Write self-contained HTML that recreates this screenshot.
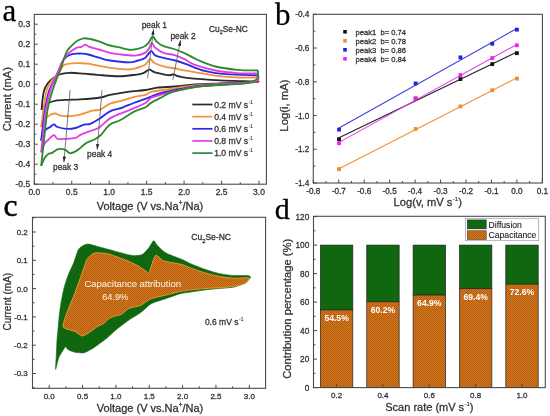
<!DOCTYPE html>
<html><head><meta charset="utf-8"><style>
html,body{margin:0;padding:0;background:#fff;width:550px;height:416px;overflow:hidden;}
svg{display:block;} #w{will-change:transform;width:550px;height:416px;}
</style></head><body><div id="w">
<svg width="550" height="416" viewBox="0 0 550 416">
<rect width="550" height="416" fill="#fff"/>
<text x="2.5" y="20.6" font-family="Liberation Serif" font-size="31" text-anchor="start" fill="#000" font-weight="normal" stroke="#000" stroke-width="0.28" >a</text>
<text x="275.0" y="25.4" font-family="Liberation Serif" font-size="31" text-anchor="start" fill="#000" font-weight="normal" stroke="#000" stroke-width="0.28" >b</text>
<text x="3.5" y="216.3" font-family="Liberation Serif" font-size="31.5" text-anchor="start" fill="#000" font-weight="normal" stroke="#000" stroke-width="0.55" >c</text>
<text x="274.8" y="218.7" font-family="Liberation Serif" font-size="30" text-anchor="start" fill="#000" font-weight="normal" stroke="#000" stroke-width="0.28" >d</text>
<line x1="34.30" y1="184.2" x2="34.30" y2="180.7" stroke="#4a4a4a" stroke-width="1"/>
<text x="34.3" y="194.9" font-family="Liberation Sans" font-size="8.5" text-anchor="middle" fill="#333" font-weight="normal" stroke="#333" stroke-width="0.28" >0.0</text>
<line x1="53.02" y1="184.2" x2="53.02" y2="182.2" stroke="#4a4a4a" stroke-width="1"/>
<line x1="71.75" y1="184.2" x2="71.75" y2="180.7" stroke="#4a4a4a" stroke-width="1"/>
<text x="71.75" y="194.9" font-family="Liberation Sans" font-size="8.5" text-anchor="middle" fill="#333" font-weight="normal" stroke="#333" stroke-width="0.28" >0.5</text>
<line x1="90.47" y1="184.2" x2="90.47" y2="182.2" stroke="#4a4a4a" stroke-width="1"/>
<line x1="109.20" y1="184.2" x2="109.20" y2="180.7" stroke="#4a4a4a" stroke-width="1"/>
<text x="109.2" y="194.9" font-family="Liberation Sans" font-size="8.5" text-anchor="middle" fill="#333" font-weight="normal" stroke="#333" stroke-width="0.28" >1.0</text>
<line x1="127.92" y1="184.2" x2="127.92" y2="182.2" stroke="#4a4a4a" stroke-width="1"/>
<line x1="146.65" y1="184.2" x2="146.65" y2="180.7" stroke="#4a4a4a" stroke-width="1"/>
<text x="146.65" y="194.9" font-family="Liberation Sans" font-size="8.5" text-anchor="middle" fill="#333" font-weight="normal" stroke="#333" stroke-width="0.28" >1.5</text>
<line x1="165.38" y1="184.2" x2="165.38" y2="182.2" stroke="#4a4a4a" stroke-width="1"/>
<line x1="184.10" y1="184.2" x2="184.10" y2="180.7" stroke="#4a4a4a" stroke-width="1"/>
<text x="184.10000000000002" y="194.9" font-family="Liberation Sans" font-size="8.5" text-anchor="middle" fill="#333" font-weight="normal" stroke="#333" stroke-width="0.28" >2.0</text>
<line x1="202.82" y1="184.2" x2="202.82" y2="182.2" stroke="#4a4a4a" stroke-width="1"/>
<line x1="221.55" y1="184.2" x2="221.55" y2="180.7" stroke="#4a4a4a" stroke-width="1"/>
<text x="221.55" y="194.9" font-family="Liberation Sans" font-size="8.5" text-anchor="middle" fill="#333" font-weight="normal" stroke="#333" stroke-width="0.28" >2.5</text>
<line x1="240.28" y1="184.2" x2="240.28" y2="182.2" stroke="#4a4a4a" stroke-width="1"/>
<line x1="259.00" y1="184.2" x2="259.00" y2="180.7" stroke="#4a4a4a" stroke-width="1"/>
<text x="259.0" y="194.9" font-family="Liberation Sans" font-size="8.5" text-anchor="middle" fill="#333" font-weight="normal" stroke="#333" stroke-width="0.28" >3.0</text>
<line x1="34.3" y1="184.20" x2="37.8" y2="184.20" stroke="#4a4a4a" stroke-width="1"/>
<text x="30.2" y="187.29999999999998" font-family="Liberation Sans" font-size="8.5" text-anchor="end" fill="#333" font-weight="normal" stroke="#333" stroke-width="0.28" >-0.5</text>
<line x1="34.3" y1="174.20" x2="36.3" y2="174.20" stroke="#4a4a4a" stroke-width="1"/>
<line x1="34.3" y1="164.20" x2="37.8" y2="164.20" stroke="#4a4a4a" stroke-width="1"/>
<text x="30.2" y="167.29999999999998" font-family="Liberation Sans" font-size="8.5" text-anchor="end" fill="#333" font-weight="normal" stroke="#333" stroke-width="0.28" >-0.4</text>
<line x1="34.3" y1="154.20" x2="36.3" y2="154.20" stroke="#4a4a4a" stroke-width="1"/>
<line x1="34.3" y1="144.20" x2="37.8" y2="144.20" stroke="#4a4a4a" stroke-width="1"/>
<text x="30.2" y="147.3" font-family="Liberation Sans" font-size="8.5" text-anchor="end" fill="#333" font-weight="normal" stroke="#333" stroke-width="0.28" >-0.3</text>
<line x1="34.3" y1="134.20" x2="36.3" y2="134.20" stroke="#4a4a4a" stroke-width="1"/>
<line x1="34.3" y1="124.20" x2="37.8" y2="124.20" stroke="#4a4a4a" stroke-width="1"/>
<text x="30.2" y="127.3" font-family="Liberation Sans" font-size="8.5" text-anchor="end" fill="#333" font-weight="normal" stroke="#333" stroke-width="0.28" >-0.2</text>
<line x1="34.3" y1="114.20" x2="36.3" y2="114.20" stroke="#4a4a4a" stroke-width="1"/>
<line x1="34.3" y1="104.20" x2="37.8" y2="104.20" stroke="#4a4a4a" stroke-width="1"/>
<text x="30.2" y="107.3" font-family="Liberation Sans" font-size="8.5" text-anchor="end" fill="#333" font-weight="normal" stroke="#333" stroke-width="0.28" >-0.1</text>
<line x1="34.3" y1="94.20" x2="36.3" y2="94.20" stroke="#4a4a4a" stroke-width="1"/>
<line x1="34.3" y1="84.20" x2="37.8" y2="84.20" stroke="#4a4a4a" stroke-width="1"/>
<text x="30.2" y="87.3" font-family="Liberation Sans" font-size="8.5" text-anchor="end" fill="#333" font-weight="normal" stroke="#333" stroke-width="0.28" >0.0</text>
<line x1="34.3" y1="74.20" x2="36.3" y2="74.20" stroke="#4a4a4a" stroke-width="1"/>
<line x1="34.3" y1="64.20" x2="37.8" y2="64.20" stroke="#4a4a4a" stroke-width="1"/>
<text x="30.2" y="67.3" font-family="Liberation Sans" font-size="8.5" text-anchor="end" fill="#333" font-weight="normal" stroke="#333" stroke-width="0.28" >0.1</text>
<line x1="34.3" y1="54.20" x2="36.3" y2="54.20" stroke="#4a4a4a" stroke-width="1"/>
<line x1="34.3" y1="44.20" x2="37.8" y2="44.20" stroke="#4a4a4a" stroke-width="1"/>
<text x="30.2" y="47.300000000000004" font-family="Liberation Sans" font-size="8.5" text-anchor="end" fill="#333" font-weight="normal" stroke="#333" stroke-width="0.28" >0.2</text>
<line x1="34.3" y1="34.20" x2="36.3" y2="34.20" stroke="#4a4a4a" stroke-width="1"/>
<line x1="34.3" y1="24.20" x2="37.8" y2="24.20" stroke="#4a4a4a" stroke-width="1"/>
<text x="30.2" y="27.299999999999997" font-family="Liberation Sans" font-size="8.5" text-anchor="end" fill="#333" font-weight="normal" stroke="#333" stroke-width="0.28" >0.3</text>
<rect x="34.3" y="14.4" width="232.09999999999997" height="169.79999999999998" fill="none" stroke="#4a4a4a" stroke-width="1.1"/>
<text x="150.0" y="209.6" font-family="Liberation Sans" font-size="11" text-anchor="middle" fill="#333" font-weight="normal" stroke="#333" stroke-width="0.28" >Voltage (V vs.Na<tspan dy="-4.5" font-size="6.5">+</tspan><tspan dy="4.5">/Na)</tspan></text>
<text x="0" y="0" font-family="Liberation Sans" font-size="11.1" text-anchor="middle" fill="#333" font-weight="normal" stroke="#333" stroke-width="0.28" transform="translate(11.0,99.2) rotate(-90)">Current (mA)</text>
<path d="M41.60,110.00 C41.75,108.33 42.08,103.25 42.50,100.00 C42.92,96.75 43.27,93.20 44.10,90.50 C44.93,87.80 46.10,85.77 47.50,83.80 C48.90,81.83 50.53,80.25 52.50,78.70 C54.47,77.15 56.48,75.48 59.30,74.50 C62.12,73.52 65.28,72.93 69.40,72.80 C73.52,72.67 79.35,73.37 84.00,73.70 C88.65,74.03 91.57,74.38 97.30,74.80 C103.03,75.22 112.12,76.20 118.40,76.20 C124.68,76.20 130.83,75.32 135.00,74.80 C139.17,74.28 141.02,73.95 143.40,73.10 C145.78,72.25 147.47,69.85 149.30,69.70 C151.13,69.55 152.02,71.43 154.40,72.20 C156.78,72.97 161.00,73.80 163.60,74.30 C166.20,74.80 168.33,75.20 170.00,75.20 C171.67,75.20 172.35,74.17 173.60,74.30 C174.85,74.43 175.32,75.40 177.50,76.00 C179.68,76.60 179.58,77.17 186.70,77.90 C193.82,78.63 210.43,79.85 220.20,80.40 C229.97,80.95 239.17,81.02 245.30,81.20 C251.43,81.38 254.72,81.57 257.00,81.50 C259.28,81.43 258.67,80.92 259.00,80.80" fill="none" stroke="#2b2b2b" stroke-width="1.85" stroke-linejoin="round"/>
<path d="M259.00,80.80 C258.67,81.00 259.33,81.73 257.00,82.00 C254.67,82.27 251.17,82.17 245.00,82.40 C238.83,82.63 228.33,83.05 220.00,83.40 C211.67,83.75 202.50,83.98 195.00,84.50 C187.50,85.02 181.28,85.97 175.00,86.50 C168.72,87.03 162.22,87.12 157.30,87.70 C152.38,88.28 150.43,89.32 145.50,90.00 C140.57,90.68 133.62,91.00 127.70,91.80 C121.78,92.60 114.55,93.85 110.00,94.80 C105.45,95.75 105.40,96.73 100.40,97.50 C95.40,98.27 85.45,99.02 80.00,99.40 C74.55,99.78 71.72,99.60 67.70,99.80 C63.68,100.00 59.13,100.07 55.90,100.60 C52.67,101.13 50.15,102.20 48.30,103.00 C46.45,103.80 45.92,104.32 44.80,105.40 C43.68,106.48 42.13,108.82 41.60,109.50" fill="none" stroke="#2b2b2b" stroke-width="1.85" stroke-linejoin="round"/>
<path d="M41.20,127.00 C41.37,125.83 41.85,122.83 42.20,120.00 C42.55,117.17 42.57,114.92 43.30,110.00 C44.03,105.08 45.35,95.17 46.60,90.50 C47.85,85.83 48.97,84.67 50.80,82.00 C52.63,79.33 55.73,76.92 57.60,74.50 C59.47,72.08 60.90,69.12 62.00,67.50 C63.10,65.88 62.57,65.48 64.20,64.80 C65.83,64.12 69.08,63.67 71.80,63.40 C74.52,63.13 77.77,63.15 80.50,63.20 C83.23,63.25 85.12,63.25 88.20,63.70 C91.28,64.15 95.37,65.22 99.00,65.90 C102.63,66.58 105.02,67.20 110.00,67.80 C114.98,68.40 124.23,69.55 128.90,69.50 C133.57,69.45 135.30,68.30 138.00,67.50 C140.70,66.70 143.07,66.10 145.10,64.70 C147.13,63.30 148.65,59.38 150.20,59.10 C151.75,58.82 152.17,61.80 154.40,63.00 C156.63,64.20 160.10,65.38 163.60,66.30 C167.10,67.22 171.75,67.78 175.40,68.50 C179.05,69.22 180.57,69.70 185.50,70.60 C190.43,71.50 200.00,73.05 205.00,73.90 C210.00,74.75 210.12,75.10 215.50,75.70 C220.88,76.30 230.22,77.20 237.30,77.50 C244.38,77.80 254.55,77.50 258.00,77.50" fill="none" stroke="#f39237" stroke-width="1.85" stroke-linejoin="round"/>
<path d="M258.00,77.50 C257.83,78.17 259.17,80.65 257.00,81.50 C254.83,82.35 251.17,82.22 245.00,82.60 C238.83,82.98 228.33,83.32 220.00,83.80 C211.67,84.28 202.50,84.75 195.00,85.50 C187.50,86.25 180.30,87.55 175.00,88.30 C169.70,89.05 167.13,89.42 163.20,90.00 C159.27,90.58 154.35,91.00 151.40,91.80 C148.45,92.60 148.47,93.92 145.50,94.80 C142.53,95.68 137.55,96.12 133.60,97.10 C129.65,98.08 125.73,99.62 121.80,100.70 C117.87,101.78 113.57,102.12 110.00,103.60 C106.43,105.08 103.37,108.43 100.40,109.60 C97.43,110.77 95.60,109.75 92.20,110.60 C88.80,111.45 83.68,113.77 80.00,114.70 C76.32,115.63 73.55,116.10 70.10,116.20 C66.65,116.30 61.70,115.75 59.30,115.30 C56.90,114.85 57.07,113.65 55.70,113.50 C54.33,113.35 52.32,113.95 51.10,114.40 C49.88,114.85 49.60,115.43 48.40,116.20 C47.20,116.97 45.10,117.20 43.90,119.00 C42.70,120.80 41.65,125.67 41.20,127.00" fill="none" stroke="#f39237" stroke-width="1.85" stroke-linejoin="round"/>
<path d="M41.20,140.60 C41.50,138.00 42.37,130.10 43.00,125.00 C43.63,119.90 43.97,115.75 45.00,110.00 C46.03,104.25 47.38,96.00 49.20,90.50 C51.02,85.00 53.67,81.77 55.90,77.00 C58.13,72.23 61.22,64.93 62.60,61.90 C63.98,58.87 63.03,59.95 64.20,58.80 C65.37,57.65 67.60,55.87 69.60,55.00 C71.60,54.13 74.02,53.83 76.20,53.60 C78.38,53.37 80.70,53.45 82.70,53.60 C84.70,53.75 85.48,53.82 88.20,54.50 C90.92,55.18 95.37,56.70 99.00,57.70 C102.63,58.70 105.02,59.73 110.00,60.50 C114.98,61.27 124.23,62.30 128.90,62.30 C133.57,62.30 135.30,61.23 138.00,60.50 C140.70,59.77 142.93,59.45 145.10,57.90 C147.27,56.35 149.32,51.62 151.00,51.20 C152.68,50.78 153.10,54.28 155.20,55.40 C157.30,56.52 160.23,57.05 163.60,57.90 C166.97,58.75 171.75,59.52 175.40,60.50 C179.05,61.48 180.65,62.07 185.50,63.80 C190.35,65.53 197.68,69.17 204.50,70.90 C211.32,72.63 217.48,73.47 226.40,74.20 C235.32,74.93 252.73,75.12 258.00,75.30" fill="none" stroke="#2a2ae6" stroke-width="1.85" stroke-linejoin="round"/>
<path d="M258.00,75.30 C257.83,76.25 259.17,79.75 257.00,81.00 C254.83,82.25 251.17,82.27 245.00,82.80 C238.83,83.33 228.33,83.62 220.00,84.20 C211.67,84.78 202.50,85.33 195.00,86.30 C187.50,87.27 181.28,88.68 175.00,90.00 C168.72,91.32 162.22,92.72 157.30,94.20 C152.38,95.68 149.45,97.43 145.50,98.90 C141.55,100.37 137.55,101.52 133.60,103.00 C129.65,104.48 125.73,106.42 121.80,107.80 C117.87,109.18 113.73,109.47 110.00,111.30 C106.27,113.13 102.70,116.70 99.40,118.80 C96.10,120.90 92.77,122.93 90.20,123.90 C87.63,124.87 86.45,123.92 84.00,124.60 C81.55,125.28 78.42,127.28 75.50,128.00 C72.58,128.72 69.50,129.07 66.50,128.90 C63.50,128.73 59.60,127.75 57.50,127.00 C55.40,126.25 55.12,124.40 53.90,124.40 C52.68,124.40 51.72,125.95 50.20,127.00 C48.68,128.05 46.30,128.43 44.80,130.70 C43.30,132.97 41.80,138.95 41.20,140.60" fill="none" stroke="#2a2ae6" stroke-width="1.85" stroke-linejoin="round"/>
<path d="M41.20,152.30 C41.58,148.58 42.73,137.05 43.50,130.00 C44.27,122.95 44.58,116.87 45.80,110.00 C47.02,103.13 48.55,95.70 50.80,88.80 C53.05,81.90 57.43,73.07 59.30,68.60 C61.17,64.13 60.65,64.35 62.00,62.00 C63.35,59.65 65.03,56.85 67.40,54.50 C69.77,52.15 73.83,49.18 76.20,47.90 C78.57,46.62 80.07,47.35 81.60,46.80 C83.13,46.25 84.12,44.60 85.40,44.60 C86.68,44.60 87.03,45.98 89.30,46.80 C91.57,47.62 95.55,48.50 99.00,49.50 C102.45,50.50 106.77,52.02 110.00,52.80 C113.23,53.58 114.23,53.73 118.40,54.20 C122.57,54.67 130.55,55.82 135.00,55.60 C139.45,55.38 142.72,54.20 145.10,52.90 C147.48,51.60 148.18,49.48 149.30,47.80 C150.42,46.12 150.82,42.80 151.80,42.80 C152.78,42.80 153.23,46.12 155.20,47.80 C157.17,49.48 160.23,51.63 163.60,52.90 C166.97,54.17 171.75,54.28 175.40,55.40 C179.05,56.52 182.47,58.10 185.50,59.60 C188.53,61.10 188.60,62.58 193.60,64.40 C198.60,66.22 208.22,69.05 215.50,70.50 C222.78,71.95 230.22,72.60 237.30,73.10 C244.38,73.60 254.55,73.43 258.00,73.50" fill="none" stroke="#e23ee2" stroke-width="1.85" stroke-linejoin="round"/>
<path d="M258.00,73.50 C257.92,74.67 259.67,78.92 257.50,80.50 C255.33,82.08 251.25,82.35 245.00,83.00 C238.75,83.65 228.33,83.73 220.00,84.40 C211.67,85.07 202.50,85.87 195.00,87.00 C187.50,88.13 180.30,90.00 175.00,91.20 C169.70,92.40 167.13,93.12 163.20,94.20 C159.27,95.28 154.35,96.23 151.40,97.70 C148.45,99.17 148.47,101.22 145.50,103.00 C142.53,104.78 137.55,106.72 133.60,108.40 C129.65,110.08 125.73,111.43 121.80,113.10 C117.87,114.77 113.90,115.92 110.00,118.40 C106.10,120.88 101.70,125.90 98.40,128.00 C95.10,130.10 93.27,129.82 90.20,131.00 C87.13,132.18 82.45,133.95 80.00,135.10 C77.55,136.25 77.75,137.28 75.50,137.90 C73.25,138.52 69.50,138.65 66.50,138.80 C63.50,138.95 59.60,139.40 57.50,138.80 C55.40,138.20 55.42,135.05 53.90,135.20 C52.38,135.35 49.92,138.35 48.40,139.70 C46.88,141.05 46.00,141.20 44.80,143.30 C43.60,145.40 41.80,150.80 41.20,152.30" fill="none" stroke="#e23ee2" stroke-width="1.85" stroke-linejoin="round"/>
<path d="M41.20,165.90 C41.67,161.58 42.95,149.32 44.00,140.00 C45.05,130.68 46.08,118.25 47.50,110.00 C48.92,101.75 50.92,95.83 52.50,90.50 C54.08,85.17 55.68,81.47 57.00,78.00 C58.32,74.53 58.83,73.98 60.40,69.70 C61.97,65.42 64.50,56.30 66.40,52.30 C68.30,48.30 69.98,47.62 71.80,45.70 C73.62,43.78 75.30,42.03 77.30,40.80 C79.30,39.57 81.63,38.60 83.80,38.30 C85.97,38.00 87.77,38.48 90.30,39.00 C92.83,39.52 95.72,40.32 99.00,41.40 C102.28,42.48 106.77,44.53 110.00,45.50 C113.23,46.47 114.90,46.47 118.40,47.20 C121.90,47.93 126.83,49.93 131.00,49.90 C135.17,49.87 140.48,48.18 143.40,47.00 C146.32,45.82 146.95,44.55 148.50,42.80 C150.05,41.05 151.30,36.65 152.70,36.50 C154.10,36.35 155.08,40.30 156.90,41.90 C158.72,43.50 160.52,44.83 163.60,46.10 C166.68,47.37 171.75,48.23 175.40,49.50 C179.05,50.77 181.73,51.95 185.50,53.70 C189.27,55.45 193.00,57.87 198.00,60.00 C203.00,62.13 208.95,64.87 215.50,66.50 C222.05,68.13 230.22,69.13 237.30,69.80 C244.38,70.47 254.55,70.38 258.00,70.50" fill="none" stroke="#2c8a2c" stroke-width="1.85" stroke-linejoin="round"/>
<path d="M258.00,70.50 C257.92,71.75 258.23,76.22 257.50,78.00 C256.77,79.78 255.68,80.30 253.60,81.20 C251.52,82.10 249.18,82.85 245.00,83.40 C240.82,83.95 235.43,84.03 228.50,84.50 C221.57,84.97 210.37,85.50 203.40,86.20 C196.43,86.90 192.27,87.58 186.70,88.70 C181.13,89.82 173.92,91.60 170.00,92.90 C166.08,94.20 166.30,94.88 163.20,96.50 C160.10,98.12 154.35,100.82 151.40,102.60 C148.45,104.38 148.47,105.65 145.50,107.20 C142.53,108.75 137.75,109.77 133.60,111.90 C129.45,114.03 124.53,117.90 120.60,120.00 C116.67,122.10 113.30,122.00 110.00,124.50 C106.70,127.00 103.30,132.55 100.80,135.00 C98.30,137.45 97.10,138.03 95.00,139.20 C92.90,140.37 89.98,141.12 88.20,142.00 C86.42,142.88 86.13,143.10 84.30,144.50 C82.47,145.90 79.57,148.93 77.20,150.40 C74.83,151.87 72.07,153.40 70.10,153.30 C68.13,153.20 67.37,150.48 65.40,149.80 C63.43,149.12 60.53,148.70 58.30,149.20 C56.07,149.70 53.65,152.00 52.00,152.80 C50.35,153.60 49.60,153.17 48.40,154.00 C47.20,154.83 46.00,155.82 44.80,157.80 C43.60,159.78 41.80,164.55 41.20,165.90" fill="none" stroke="#2c8a2c" stroke-width="1.85" stroke-linejoin="round"/>
<line x1="147.6" y1="78.1" x2="153.5" y2="29.3" stroke="#555" stroke-width="0.8"/>
<path d="M153.50,29.30 L154.43,34.95 L151.25,34.57Z" fill="#222"/>
<line x1="172.9" y1="79.8" x2="180.5" y2="40.3" stroke="#555" stroke-width="0.8"/>
<path d="M180.50,40.30 L181.03,46.00 L177.89,45.40Z" fill="#222"/>
<line x1="70.1" y1="90" x2="63.9" y2="162.2" stroke="#555" stroke-width="0.8"/>
<path d="M63.90,162.20 L62.78,156.58 L65.96,156.86Z" fill="#222"/>
<line x1="102" y1="90.2" x2="97.2" y2="149.6" stroke="#555" stroke-width="0.8"/>
<path d="M97.20,149.60 L96.05,143.99 L99.24,144.25Z" fill="#222"/>
<text x="141.7" y="27.6" font-family="Liberation Sans" font-size="8.4" text-anchor="start" fill="#333" font-weight="normal" stroke="#333" stroke-width="0.28" >peak 1</text>
<text x="170.4" y="38.6" font-family="Liberation Sans" font-size="8.4" text-anchor="start" fill="#333" font-weight="normal" stroke="#333" stroke-width="0.28" >peak 2</text>
<text x="53" y="169.6" font-family="Liberation Sans" font-size="8.4" text-anchor="start" fill="#333" font-weight="normal" stroke="#333" stroke-width="0.28" >peak 3</text>
<text x="87.1" y="156.7" font-family="Liberation Sans" font-size="8.4" text-anchor="start" fill="#333" font-weight="normal" stroke="#333" stroke-width="0.28" >peak 4</text>
<text x="209" y="31.5" font-family="Liberation Sans" font-size="8.4" text-anchor="start" fill="#333" font-weight="normal" stroke="#333" stroke-width="0.28" >Cu<tspan dy="2.5" font-size="5.5">2</tspan><tspan dy="-2.5">Se-NC</tspan></text>
<line x1="192.3" y1="104.50" x2="212.5" y2="104.50" stroke="#2b2b2b" stroke-width="1.7"/>
<text x="214.2" y="107.6" font-family="Liberation Sans" font-size="8.6" text-anchor="start" fill="#333" font-weight="normal" stroke="#333" stroke-width="0.28" >0.2 mV s<tspan dx="0.6" dy="-3.8" font-size="4.6" stroke-width="0.1">-1</tspan></text>
<line x1="192.3" y1="116.65" x2="212.5" y2="116.65" stroke="#f39237" stroke-width="1.7"/>
<text x="214.2" y="119.75" font-family="Liberation Sans" font-size="8.6" text-anchor="start" fill="#333" font-weight="normal" stroke="#333" stroke-width="0.28" >0.4 mV s<tspan dx="0.6" dy="-3.8" font-size="4.6" stroke-width="0.1">-1</tspan></text>
<line x1="192.3" y1="128.80" x2="212.5" y2="128.80" stroke="#2a2ae6" stroke-width="1.7"/>
<text x="214.2" y="131.9" font-family="Liberation Sans" font-size="8.6" text-anchor="start" fill="#333" font-weight="normal" stroke="#333" stroke-width="0.28" >0.6 mV s<tspan dx="0.6" dy="-3.8" font-size="4.6" stroke-width="0.1">-1</tspan></text>
<line x1="192.3" y1="140.95" x2="212.5" y2="140.95" stroke="#e23ee2" stroke-width="1.7"/>
<text x="214.2" y="144.04999999999998" font-family="Liberation Sans" font-size="8.6" text-anchor="start" fill="#333" font-weight="normal" stroke="#333" stroke-width="0.28" >0.8 mV s<tspan dx="0.6" dy="-3.8" font-size="4.6" stroke-width="0.1">-1</tspan></text>
<line x1="192.3" y1="153.10" x2="212.5" y2="153.10" stroke="#2c8a2c" stroke-width="1.7"/>
<text x="214.2" y="156.2" font-family="Liberation Sans" font-size="8.6" text-anchor="start" fill="#333" font-weight="normal" stroke="#333" stroke-width="0.28" >1.0 mV s<tspan dx="0.6" dy="-3.8" font-size="4.6" stroke-width="0.1">-1</tspan></text>
<line x1="313.30" y1="183.0" x2="313.30" y2="179.5" stroke="#4a4a4a" stroke-width="1"/>
<text x="313.3" y="194.2" font-family="Liberation Sans" font-size="8.2" text-anchor="middle" fill="#333" font-weight="normal" stroke="#333" stroke-width="0.28" >-0.8</text>
<line x1="326.03" y1="183.0" x2="326.03" y2="181.0" stroke="#4a4a4a" stroke-width="1"/>
<line x1="338.75" y1="183.0" x2="338.75" y2="179.5" stroke="#4a4a4a" stroke-width="1"/>
<text x="338.75" y="194.2" font-family="Liberation Sans" font-size="8.2" text-anchor="middle" fill="#333" font-weight="normal" stroke="#333" stroke-width="0.28" >-0.7</text>
<line x1="351.48" y1="183.0" x2="351.48" y2="181.0" stroke="#4a4a4a" stroke-width="1"/>
<line x1="364.20" y1="183.0" x2="364.20" y2="179.5" stroke="#4a4a4a" stroke-width="1"/>
<text x="364.2" y="194.2" font-family="Liberation Sans" font-size="8.2" text-anchor="middle" fill="#333" font-weight="normal" stroke="#333" stroke-width="0.28" >-0.6</text>
<line x1="376.93" y1="183.0" x2="376.93" y2="181.0" stroke="#4a4a4a" stroke-width="1"/>
<line x1="389.65" y1="183.0" x2="389.65" y2="179.5" stroke="#4a4a4a" stroke-width="1"/>
<text x="389.65000000000003" y="194.2" font-family="Liberation Sans" font-size="8.2" text-anchor="middle" fill="#333" font-weight="normal" stroke="#333" stroke-width="0.28" >-0.5</text>
<line x1="402.38" y1="183.0" x2="402.38" y2="181.0" stroke="#4a4a4a" stroke-width="1"/>
<line x1="415.10" y1="183.0" x2="415.10" y2="179.5" stroke="#4a4a4a" stroke-width="1"/>
<text x="415.1" y="194.2" font-family="Liberation Sans" font-size="8.2" text-anchor="middle" fill="#333" font-weight="normal" stroke="#333" stroke-width="0.28" >-0.4</text>
<line x1="427.83" y1="183.0" x2="427.83" y2="181.0" stroke="#4a4a4a" stroke-width="1"/>
<line x1="440.55" y1="183.0" x2="440.55" y2="179.5" stroke="#4a4a4a" stroke-width="1"/>
<text x="440.55" y="194.2" font-family="Liberation Sans" font-size="8.2" text-anchor="middle" fill="#333" font-weight="normal" stroke="#333" stroke-width="0.28" >-0.3</text>
<line x1="453.28" y1="183.0" x2="453.28" y2="181.0" stroke="#4a4a4a" stroke-width="1"/>
<line x1="466.00" y1="183.0" x2="466.00" y2="179.5" stroke="#4a4a4a" stroke-width="1"/>
<text x="466.0" y="194.2" font-family="Liberation Sans" font-size="8.2" text-anchor="middle" fill="#333" font-weight="normal" stroke="#333" stroke-width="0.28" >-0.2</text>
<line x1="478.73" y1="183.0" x2="478.73" y2="181.0" stroke="#4a4a4a" stroke-width="1"/>
<line x1="491.45" y1="183.0" x2="491.45" y2="179.5" stroke="#4a4a4a" stroke-width="1"/>
<text x="491.45000000000005" y="194.2" font-family="Liberation Sans" font-size="8.2" text-anchor="middle" fill="#333" font-weight="normal" stroke="#333" stroke-width="0.28" >-0.1</text>
<line x1="504.18" y1="183.0" x2="504.18" y2="181.0" stroke="#4a4a4a" stroke-width="1"/>
<line x1="516.90" y1="183.0" x2="516.90" y2="179.5" stroke="#4a4a4a" stroke-width="1"/>
<text x="516.9000000000001" y="194.2" font-family="Liberation Sans" font-size="8.2" text-anchor="middle" fill="#333" font-weight="normal" stroke="#333" stroke-width="0.28" >0.0</text>
<line x1="529.62" y1="183.0" x2="529.62" y2="181.0" stroke="#4a4a4a" stroke-width="1"/>
<line x1="542.35" y1="183.0" x2="542.35" y2="179.5" stroke="#4a4a4a" stroke-width="1"/>
<text x="542.35" y="194.2" font-family="Liberation Sans" font-size="8.2" text-anchor="middle" fill="#333" font-weight="normal" stroke="#333" stroke-width="0.28" >0.1</text>
<line x1="313.3" y1="183.00" x2="316.8" y2="183.00" stroke="#4a4a4a" stroke-width="1"/>
<text x="309.4" y="186.0" font-family="Liberation Sans" font-size="8.2" text-anchor="end" fill="#333" font-weight="normal" stroke="#333" stroke-width="0.28" >-1.4</text>
<line x1="313.3" y1="166.13" x2="315.3" y2="166.13" stroke="#4a4a4a" stroke-width="1"/>
<line x1="313.3" y1="149.26" x2="316.8" y2="149.26" stroke="#4a4a4a" stroke-width="1"/>
<text x="309.4" y="152.26000000000002" font-family="Liberation Sans" font-size="8.2" text-anchor="end" fill="#333" font-weight="normal" stroke="#333" stroke-width="0.28" >-1.2</text>
<line x1="313.3" y1="132.39" x2="315.3" y2="132.39" stroke="#4a4a4a" stroke-width="1"/>
<line x1="313.3" y1="115.52" x2="316.8" y2="115.52" stroke="#4a4a4a" stroke-width="1"/>
<text x="309.4" y="118.52" font-family="Liberation Sans" font-size="8.2" text-anchor="end" fill="#333" font-weight="normal" stroke="#333" stroke-width="0.28" >-1.0</text>
<line x1="313.3" y1="98.65" x2="315.3" y2="98.65" stroke="#4a4a4a" stroke-width="1"/>
<line x1="313.3" y1="81.78" x2="316.8" y2="81.78" stroke="#4a4a4a" stroke-width="1"/>
<text x="309.4" y="84.77999999999999" font-family="Liberation Sans" font-size="8.2" text-anchor="end" fill="#333" font-weight="normal" stroke="#333" stroke-width="0.28" >-0.8</text>
<line x1="313.3" y1="64.91" x2="315.3" y2="64.91" stroke="#4a4a4a" stroke-width="1"/>
<line x1="313.3" y1="48.04" x2="316.8" y2="48.04" stroke="#4a4a4a" stroke-width="1"/>
<text x="309.4" y="51.03999999999999" font-family="Liberation Sans" font-size="8.2" text-anchor="end" fill="#333" font-weight="normal" stroke="#333" stroke-width="0.28" >-0.6</text>
<line x1="313.3" y1="31.17" x2="315.3" y2="31.17" stroke="#4a4a4a" stroke-width="1"/>
<line x1="313.3" y1="14.30" x2="316.8" y2="14.30" stroke="#4a4a4a" stroke-width="1"/>
<text x="309.4" y="17.30000000000001" font-family="Liberation Sans" font-size="8.2" text-anchor="end" fill="#333" font-weight="normal" stroke="#333" stroke-width="0.28" >-0.4</text>
<rect x="313.3" y="14.3" width="229.09999999999997" height="168.7" fill="none" stroke="#4a4a4a" stroke-width="1.1"/>
<text x="427.7" y="205.5" font-family="Liberation Sans" font-size="11.2" text-anchor="middle" fill="#333" font-weight="normal" stroke="#333" stroke-width="0.28" >Log(v, mV s<tspan dx="0.4" dy="-4.6" font-size="6" stroke-width="0.15">-1</tspan><tspan dy="4.6">)</tspan></text>
<text x="0" y="0" font-family="Liberation Sans" font-size="11.3" text-anchor="middle" fill="#333" font-weight="normal" stroke="#333" stroke-width="0.28" transform="translate(288.3,105.6) rotate(-90)">Log(i, mA)</text>
<line x1="339.01" y1="137.76" x2="516.90" y2="52.11" stroke="#222" stroke-width="1.1"/>
<line x1="339.01" y1="168.64" x2="516.90" y2="77.88" stroke="#f0903a" stroke-width="1.1"/>
<line x1="339.01" y1="128.02" x2="516.90" y2="28.42" stroke="#4040e0" stroke-width="1.1"/>
<line x1="339.01" y1="142.37" x2="516.90" y2="44.44" stroke="#e040e0" stroke-width="1.1"/>
<rect x="337.11" y="137.28" width="3.8" height="3.8" fill="#111"/>
<rect x="413.72" y="96.55" width="3.8" height="3.8" fill="#111"/>
<rect x="458.54" y="77.20" width="3.8" height="3.8" fill="#111"/>
<rect x="490.34" y="62.22" width="3.8" height="3.8" fill="#111"/>
<rect x="515.00" y="51.28" width="3.8" height="3.8" fill="#111"/>
<rect x="337.11" y="167.24" width="3.8" height="3.8" fill="#f08a30"/>
<rect x="413.72" y="127.01" width="3.8" height="3.8" fill="#f08a30"/>
<rect x="458.54" y="104.46" width="3.8" height="3.8" fill="#f08a30"/>
<rect x="490.34" y="88.30" width="3.8" height="3.8" fill="#f08a30"/>
<rect x="515.00" y="76.69" width="3.8" height="3.8" fill="#f08a30"/>
<rect x="337.11" y="127.69" width="3.8" height="3.8" fill="#2020e0"/>
<rect x="413.72" y="81.57" width="3.8" height="3.8" fill="#2020e0"/>
<rect x="458.54" y="55.48" width="3.8" height="3.8" fill="#2020e0"/>
<rect x="490.34" y="41.85" width="3.8" height="3.8" fill="#2020e0"/>
<rect x="515.00" y="27.72" width="3.8" height="3.8" fill="#2020e0"/>
<rect x="337.11" y="141.32" width="3.8" height="3.8" fill="#f020f0"/>
<rect x="413.72" y="97.05" width="3.8" height="3.8" fill="#f020f0"/>
<rect x="458.54" y="73.16" width="3.8" height="3.8" fill="#f020f0"/>
<rect x="490.34" y="56.16" width="3.8" height="3.8" fill="#f020f0"/>
<rect x="515.00" y="43.37" width="3.8" height="3.8" fill="#f020f0"/>
<rect x="343.2" y="30.00" width="3.6" height="3.6" fill="#111"/>
<text x="355.5" y="34.5" font-family="Liberation Sans" font-size="7.6" text-anchor="start" fill="#333" font-weight="normal" stroke="#333" stroke-width="0.28" >peak1&#160; b= 0.74</text>
<rect x="343.2" y="39.00" width="3.6" height="3.6" fill="#f08a30"/>
<text x="355.5" y="43.5" font-family="Liberation Sans" font-size="7.6" text-anchor="start" fill="#333" font-weight="normal" stroke="#333" stroke-width="0.28" >peak2&#160; b= 0.78</text>
<rect x="343.2" y="48.00" width="3.6" height="3.6" fill="#2020e0"/>
<text x="355.5" y="52.5" font-family="Liberation Sans" font-size="7.6" text-anchor="start" fill="#333" font-weight="normal" stroke="#333" stroke-width="0.28" >peak3&#160; b= 0.86</text>
<rect x="343.2" y="57.00" width="3.6" height="3.6" fill="#f020f0"/>
<text x="355.5" y="61.5" font-family="Liberation Sans" font-size="7.6" text-anchor="start" fill="#333" font-weight="normal" stroke="#333" stroke-width="0.28" >peak4&#160; b= 0.84</text>
<line x1="49.20" y1="388.3" x2="49.20" y2="384.8" stroke="#4a4a4a" stroke-width="1"/>
<text x="49.2" y="399.3" font-family="Liberation Sans" font-size="8" text-anchor="middle" fill="#333" font-weight="normal" stroke="#333" stroke-width="0.28" >0.0</text>
<line x1="82.55" y1="388.3" x2="82.55" y2="384.8" stroke="#4a4a4a" stroke-width="1"/>
<text x="82.55000000000001" y="399.3" font-family="Liberation Sans" font-size="8" text-anchor="middle" fill="#333" font-weight="normal" stroke="#333" stroke-width="0.28" >0.5</text>
<line x1="115.90" y1="388.3" x2="115.90" y2="384.8" stroke="#4a4a4a" stroke-width="1"/>
<text x="115.9" y="399.3" font-family="Liberation Sans" font-size="8" text-anchor="middle" fill="#333" font-weight="normal" stroke="#333" stroke-width="0.28" >1.0</text>
<line x1="149.25" y1="388.3" x2="149.25" y2="384.8" stroke="#4a4a4a" stroke-width="1"/>
<text x="149.25" y="399.3" font-family="Liberation Sans" font-size="8" text-anchor="middle" fill="#333" font-weight="normal" stroke="#333" stroke-width="0.28" >1.5</text>
<line x1="182.60" y1="388.3" x2="182.60" y2="384.8" stroke="#4a4a4a" stroke-width="1"/>
<text x="182.60000000000002" y="399.3" font-family="Liberation Sans" font-size="8" text-anchor="middle" fill="#333" font-weight="normal" stroke="#333" stroke-width="0.28" >2.0</text>
<line x1="215.95" y1="388.3" x2="215.95" y2="384.8" stroke="#4a4a4a" stroke-width="1"/>
<text x="215.95" y="399.3" font-family="Liberation Sans" font-size="8" text-anchor="middle" fill="#333" font-weight="normal" stroke="#333" stroke-width="0.28" >2.5</text>
<line x1="249.30" y1="388.3" x2="249.30" y2="384.8" stroke="#4a4a4a" stroke-width="1"/>
<text x="249.3" y="399.3" font-family="Liberation Sans" font-size="8" text-anchor="middle" fill="#333" font-weight="normal" stroke="#333" stroke-width="0.28" >3.0</text>
<line x1="32.53" y1="388.3" x2="32.53" y2="386.3" stroke="#4a4a4a" stroke-width="1"/>
<line x1="65.88" y1="388.3" x2="65.88" y2="386.3" stroke="#4a4a4a" stroke-width="1"/>
<line x1="99.23" y1="388.3" x2="99.23" y2="386.3" stroke="#4a4a4a" stroke-width="1"/>
<line x1="132.57" y1="388.3" x2="132.57" y2="386.3" stroke="#4a4a4a" stroke-width="1"/>
<line x1="165.93" y1="388.3" x2="165.93" y2="386.3" stroke="#4a4a4a" stroke-width="1"/>
<line x1="199.28" y1="388.3" x2="199.28" y2="386.3" stroke="#4a4a4a" stroke-width="1"/>
<line x1="232.62" y1="388.3" x2="232.62" y2="386.3" stroke="#4a4a4a" stroke-width="1"/>
<line x1="32.5" y1="373.50" x2="36.0" y2="373.50" stroke="#4a4a4a" stroke-width="1"/>
<text x="27.8" y="376.4" font-family="Liberation Sans" font-size="8" text-anchor="end" fill="#333" font-weight="normal" stroke="#333" stroke-width="0.28" >-0.3</text>
<line x1="32.5" y1="345.20" x2="36.0" y2="345.20" stroke="#4a4a4a" stroke-width="1"/>
<text x="27.8" y="348.1" font-family="Liberation Sans" font-size="8" text-anchor="end" fill="#333" font-weight="normal" stroke="#333" stroke-width="0.28" >-0.2</text>
<line x1="32.5" y1="316.90" x2="36.0" y2="316.90" stroke="#4a4a4a" stroke-width="1"/>
<text x="27.8" y="319.8" font-family="Liberation Sans" font-size="8" text-anchor="end" fill="#333" font-weight="normal" stroke="#333" stroke-width="0.28" >-0.1</text>
<line x1="32.5" y1="288.60" x2="36.0" y2="288.60" stroke="#4a4a4a" stroke-width="1"/>
<text x="27.8" y="291.5" font-family="Liberation Sans" font-size="8" text-anchor="end" fill="#333" font-weight="normal" stroke="#333" stroke-width="0.28" >0.0</text>
<line x1="32.5" y1="260.30" x2="36.0" y2="260.30" stroke="#4a4a4a" stroke-width="1"/>
<text x="27.8" y="263.2" font-family="Liberation Sans" font-size="8" text-anchor="end" fill="#333" font-weight="normal" stroke="#333" stroke-width="0.28" >0.1</text>
<line x1="32.5" y1="232.00" x2="36.0" y2="232.00" stroke="#4a4a4a" stroke-width="1"/>
<text x="27.8" y="234.90000000000003" font-family="Liberation Sans" font-size="8" text-anchor="end" fill="#333" font-weight="normal" stroke="#333" stroke-width="0.28" >0.2</text>
<line x1="32.5" y1="387.65" x2="34.5" y2="387.65" stroke="#4a4a4a" stroke-width="1"/>
<line x1="32.5" y1="359.35" x2="34.5" y2="359.35" stroke="#4a4a4a" stroke-width="1"/>
<line x1="32.5" y1="331.05" x2="34.5" y2="331.05" stroke="#4a4a4a" stroke-width="1"/>
<line x1="32.5" y1="302.75" x2="34.5" y2="302.75" stroke="#4a4a4a" stroke-width="1"/>
<line x1="32.5" y1="274.45" x2="34.5" y2="274.45" stroke="#4a4a4a" stroke-width="1"/>
<line x1="32.5" y1="246.15" x2="34.5" y2="246.15" stroke="#4a4a4a" stroke-width="1"/>
<line x1="32.5" y1="217.85" x2="34.5" y2="217.85" stroke="#4a4a4a" stroke-width="1"/>
<rect x="32.5" y="217.3" width="233.10000000000002" height="171.0" fill="none" stroke="#4a4a4a" stroke-width="1.1"/>
<text x="150.0" y="411.6" font-family="Liberation Sans" font-size="11" text-anchor="middle" fill="#333" font-weight="normal" stroke="#333" stroke-width="0.28" >Voltage (V vs.Na<tspan dy="-4.5" font-size="6.5">+</tspan><tspan dy="4.5">/Na)</tspan></text>
<text x="0" y="0" font-family="Liberation Sans" font-size="10" text-anchor="middle" fill="#333" font-weight="normal" stroke="#333" stroke-width="0.28" transform="translate(10.6,301.7) rotate(-90)">Current (mA)</text>
<defs>
<pattern id="pg" width="2" height="2" patternUnits="userSpaceOnUse"><rect width="2" height="2" fill="#146c14"/><rect width="1" height="1" fill="#0b620b"/><rect x="1" y="1" width="1" height="1" fill="#0b620b"/></pattern>
<pattern id="po" width="2" height="2" patternUnits="userSpaceOnUse"><rect width="2" height="2" fill="#d4761c"/><rect width="1" height="1" fill="#b45e12"/><rect x="1" y="1" width="1" height="1" fill="#b45e12"/></pattern>
</defs>
<path d="M55.60,369.40 C55.31,369.08 56.14,358.43 56.30,355.00 C56.46,351.57 56.78,343.27 57.00,340.00 C57.22,336.73 57.92,330.03 58.20,327.00 C58.48,323.97 59.07,316.80 59.40,314.00 C59.73,311.20 60.64,305.22 61.00,303.00 C61.36,300.78 62.09,296.96 62.50,295.00 C62.91,293.04 63.80,288.62 64.50,286.20 C65.20,283.78 67.42,277.06 68.50,274.30 C69.58,271.54 72.66,265.37 73.80,262.50 C74.94,259.63 77.20,251.67 78.30,249.70 C79.40,247.73 82.06,246.26 83.20,245.60 C84.34,244.94 86.38,243.90 88.10,244.00 C89.81,244.10 94.66,245.64 97.90,246.50 C101.14,247.36 111.89,250.35 115.90,251.40 C119.91,252.45 129.24,255.13 132.30,255.50 C135.36,255.87 140.20,255.46 142.10,254.60 C144.00,253.74 147.26,249.72 148.60,248.10 C149.94,246.48 152.64,241.08 153.60,240.70 C154.56,240.31 155.86,243.75 156.80,244.80 C157.75,245.85 160.63,248.74 161.70,249.70 C162.77,250.66 164.68,252.26 166.00,253.00 C167.32,253.74 171.10,255.24 173.00,256.00 C174.90,256.76 180.38,258.66 182.30,259.50 C184.23,260.34 186.96,262.09 189.50,263.20 C192.04,264.31 200.70,267.81 204.10,269.00 C207.50,270.19 215.20,272.64 218.60,273.40 C222.00,274.16 229.80,275.25 233.20,275.50 C236.59,275.75 245.68,275.29 247.70,275.50 C249.72,275.71 250.47,276.72 250.50,277.30 C250.53,277.88 248.66,279.78 248.00,280.50 C247.34,281.22 246.53,282.72 244.80,283.50 C243.07,284.28 236.26,286.60 233.20,287.20 C230.14,287.80 222.00,288.26 218.60,288.60 C215.20,288.94 207.50,289.67 204.10,290.10 C200.70,290.53 192.31,291.88 189.50,292.30 C186.69,292.72 182.80,292.94 180.00,293.70 C177.20,294.46 168.90,297.61 165.50,298.80 C162.10,299.99 153.79,302.29 150.90,303.90 C148.01,305.51 143.24,310.73 140.70,312.60 C138.16,314.47 131.81,318.03 129.10,319.90 C126.39,321.77 120.04,326.51 117.50,328.60 C114.96,330.69 109.22,336.18 107.30,337.80 C105.38,339.42 102.67,341.27 101.00,342.50 C99.33,343.73 94.98,347.10 93.00,348.30 C91.02,349.50 86.10,352.33 84.00,352.80 C81.90,353.27 76.89,352.69 75.00,352.30 C73.11,351.92 68.85,350.14 67.80,349.50 C66.75,348.86 66.42,346.91 66.00,346.80 C65.58,346.69 65.04,347.33 64.20,348.60 C63.36,349.87 59.80,355.27 58.80,357.70 C57.80,360.13 55.89,369.71 55.60,369.40Z" fill="url(#pg)" stroke="#146c14" stroke-width="0.6"/>
<path d="M62.80,326.00 C62.78,324.70 65.08,317.90 65.80,315.80 C66.52,313.70 69.13,307.17 70.00,305.00 C70.87,302.83 73.19,297.57 74.50,294.10 C75.81,290.63 81.90,273.71 83.10,270.30 C84.30,266.89 86.00,261.24 86.50,260.00 C87.00,258.76 87.29,258.60 88.10,257.90 C88.91,257.20 92.64,253.41 94.60,253.00 C96.56,252.59 104.75,253.15 107.70,253.80 C110.65,254.45 121.15,258.35 124.10,259.50 C127.05,260.65 134.91,264.07 137.20,265.30 C139.49,266.53 145.82,271.05 147.00,271.80 C148.18,272.55 148.15,274.43 149.00,272.80 C149.85,271.17 154.05,256.70 155.50,255.50 C156.95,254.30 161.75,260.07 163.50,260.80 C165.25,261.53 171.12,262.42 173.00,262.80 C174.88,263.18 180.65,264.13 182.30,264.60 C183.95,265.07 187.32,266.70 189.50,267.50 C191.68,268.30 201.19,271.72 204.10,272.60 C207.01,273.48 215.69,275.74 218.60,276.30 C221.51,276.86 230.29,278.06 233.20,278.20 C236.11,278.34 246.10,277.65 247.70,277.70 C249.30,277.75 249.34,278.26 249.20,278.70 C249.06,279.14 247.17,281.47 246.30,282.10 C245.43,282.73 242.54,284.49 240.50,285.00 C238.46,285.51 229.54,286.84 225.90,287.20 C222.26,287.56 207.74,288.31 204.10,288.60 C200.46,288.89 191.91,289.81 189.50,290.10 C187.09,290.39 182.40,290.99 180.00,291.50 C177.60,292.01 168.41,294.47 165.50,295.20 C162.59,295.93 153.38,297.78 150.90,298.80 C148.42,299.82 142.88,304.45 140.70,305.40 C138.52,306.35 130.99,307.43 129.10,308.30 C127.21,309.17 123.69,313.16 121.80,314.10 C119.91,315.04 111.99,316.77 110.20,317.70 C108.41,318.63 105.26,322.47 103.90,323.40 C102.54,324.33 98.05,326.10 96.60,327.00 C95.15,327.90 90.84,331.50 89.40,332.40 C87.96,333.30 83.64,336.09 82.20,336.00 C80.76,335.91 76.62,332.22 75.00,331.50 C73.38,330.78 67.22,329.35 66.00,328.80 C64.78,328.25 62.82,327.30 62.80,326.00Z" fill="url(#po)" stroke="#f39a3a" stroke-width="0.9"/>
<text x="84.5" y="286.8" font-family="Liberation Sans" font-size="9.45" text-anchor="start" fill="#f4ead8" font-weight="normal" stroke="#f4ead8" stroke-width="0.1" >Capacitance attribution</text>
<text x="102.2" y="299.8" font-family="Liberation Sans" font-size="9.2" text-anchor="start" fill="#f4ead8" font-weight="normal" stroke="#f4ead8" stroke-width="0.1" >64.9%</text>
<text x="191.3" y="240.0" font-family="Liberation Sans" font-size="8.5" text-anchor="start" fill="#333" font-weight="normal" stroke="#333" stroke-width="0.28" >Cu<tspan dy="2.5" font-size="5.8">2</tspan><tspan dy="-2.5">Se-NC</tspan></text>
<text x="204.9" y="325.0" font-family="Liberation Sans" font-size="8.5" text-anchor="start" fill="#333" font-weight="normal" stroke="#333" stroke-width="0.28" >0.6 mV s<tspan dx="0.6" dy="-3.8" font-size="4.8" stroke-width="0.1">-1</tspan></text>
<line x1="313.5" y1="387.60" x2="317.0" y2="387.60" stroke="#4a4a4a" stroke-width="1"/>
<text x="309.3" y="390.5" font-family="Liberation Sans" font-size="8.3" text-anchor="end" fill="#333" font-weight="normal" stroke="#333" stroke-width="0.28" >0</text>
<line x1="313.5" y1="373.35" x2="315.5" y2="373.35" stroke="#4a4a4a" stroke-width="1"/>
<line x1="313.5" y1="359.10" x2="317.0" y2="359.10" stroke="#4a4a4a" stroke-width="1"/>
<text x="309.3" y="362.0" font-family="Liberation Sans" font-size="8.3" text-anchor="end" fill="#333" font-weight="normal" stroke="#333" stroke-width="0.28" >20</text>
<line x1="313.5" y1="344.85" x2="315.5" y2="344.85" stroke="#4a4a4a" stroke-width="1"/>
<line x1="313.5" y1="330.60" x2="317.0" y2="330.60" stroke="#4a4a4a" stroke-width="1"/>
<text x="309.3" y="333.5" font-family="Liberation Sans" font-size="8.3" text-anchor="end" fill="#333" font-weight="normal" stroke="#333" stroke-width="0.28" >40</text>
<line x1="313.5" y1="316.35" x2="315.5" y2="316.35" stroke="#4a4a4a" stroke-width="1"/>
<line x1="313.5" y1="302.10" x2="317.0" y2="302.10" stroke="#4a4a4a" stroke-width="1"/>
<text x="309.3" y="305.0" font-family="Liberation Sans" font-size="8.3" text-anchor="end" fill="#333" font-weight="normal" stroke="#333" stroke-width="0.28" >60</text>
<line x1="313.5" y1="287.85" x2="315.5" y2="287.85" stroke="#4a4a4a" stroke-width="1"/>
<line x1="313.5" y1="273.60" x2="317.0" y2="273.60" stroke="#4a4a4a" stroke-width="1"/>
<text x="309.3" y="276.5" font-family="Liberation Sans" font-size="8.3" text-anchor="end" fill="#333" font-weight="normal" stroke="#333" stroke-width="0.28" >80</text>
<line x1="313.5" y1="259.35" x2="315.5" y2="259.35" stroke="#4a4a4a" stroke-width="1"/>
<line x1="313.5" y1="245.10" x2="317.0" y2="245.10" stroke="#4a4a4a" stroke-width="1"/>
<text x="309.3" y="248.00000000000003" font-family="Liberation Sans" font-size="8.3" text-anchor="end" fill="#333" font-weight="normal" stroke="#333" stroke-width="0.28" >100</text>
<line x1="313.5" y1="230.85" x2="315.5" y2="230.85" stroke="#4a4a4a" stroke-width="1"/>
<line x1="313.5" y1="216.60" x2="317.0" y2="216.60" stroke="#4a4a4a" stroke-width="1"/>
<text x="309.3" y="219.50000000000003" font-family="Liberation Sans" font-size="8.3" text-anchor="end" fill="#333" font-weight="normal" stroke="#333" stroke-width="0.28" >120</text>
<rect x="320.40" y="245.10" width="32.4" height="64.84" fill="url(#pg)" stroke="#222" stroke-width="0.7"/>
<rect x="320.40" y="309.94" width="32.4" height="77.66" fill="url(#po)" stroke="#222" stroke-width="0.7"/>
<text x="336.6" y="320.7375" font-family="Liberation Sans" font-size="8.6" text-anchor="middle" fill="#fff" font-weight="bold" >54.5%</text>
<line x1="336.60" y1="387.6" x2="336.60" y2="384.1" stroke="#4a4a4a" stroke-width="1"/>
<text x="336.6" y="398" font-family="Liberation Sans" font-size="8" text-anchor="middle" fill="#333" font-weight="normal" stroke="#333" stroke-width="0.28" >0.2</text>
<rect x="366.75" y="245.10" width="32.4" height="56.71" fill="url(#pg)" stroke="#222" stroke-width="0.7"/>
<rect x="366.75" y="301.81" width="32.4" height="85.79" fill="url(#po)" stroke="#222" stroke-width="0.7"/>
<text x="382.95000000000005" y="312.615" font-family="Liberation Sans" font-size="8.6" text-anchor="middle" fill="#fff" font-weight="bold" >60.2%</text>
<line x1="382.95" y1="387.6" x2="382.95" y2="384.1" stroke="#4a4a4a" stroke-width="1"/>
<text x="382.95000000000005" y="398" font-family="Liberation Sans" font-size="8" text-anchor="middle" fill="#333" font-weight="normal" stroke="#333" stroke-width="0.28" >0.4</text>
<rect x="413.10" y="245.10" width="32.4" height="50.02" fill="url(#pg)" stroke="#222" stroke-width="0.7"/>
<rect x="413.10" y="295.12" width="32.4" height="92.48" fill="url(#po)" stroke="#222" stroke-width="0.7"/>
<text x="429.3" y="305.9175" font-family="Liberation Sans" font-size="8.6" text-anchor="middle" fill="#fff" font-weight="bold" >64.9%</text>
<line x1="429.30" y1="387.6" x2="429.30" y2="384.1" stroke="#4a4a4a" stroke-width="1"/>
<text x="429.3" y="398" font-family="Liberation Sans" font-size="8" text-anchor="middle" fill="#333" font-weight="normal" stroke="#333" stroke-width="0.28" >0.6</text>
<rect x="459.45" y="245.10" width="32.4" height="43.61" fill="url(#pg)" stroke="#222" stroke-width="0.7"/>
<rect x="459.45" y="288.71" width="32.4" height="98.89" fill="url(#po)" stroke="#222" stroke-width="0.7"/>
<text x="475.65000000000003" y="299.50500000000005" font-family="Liberation Sans" font-size="8.6" text-anchor="middle" fill="#fff" font-weight="bold" >69.4%</text>
<line x1="475.65" y1="387.6" x2="475.65" y2="384.1" stroke="#4a4a4a" stroke-width="1"/>
<text x="475.65000000000003" y="398" font-family="Liberation Sans" font-size="8" text-anchor="middle" fill="#333" font-weight="normal" stroke="#333" stroke-width="0.28" >0.8</text>
<rect x="505.80" y="245.10" width="32.4" height="39.05" fill="url(#pg)" stroke="#222" stroke-width="0.7"/>
<rect x="505.80" y="284.15" width="32.4" height="103.45" fill="url(#po)" stroke="#222" stroke-width="0.7"/>
<text x="522.0" y="294.94500000000005" font-family="Liberation Sans" font-size="8.6" text-anchor="middle" fill="#fff" font-weight="bold" >72.6%</text>
<line x1="522.00" y1="387.6" x2="522.00" y2="384.1" stroke="#4a4a4a" stroke-width="1"/>
<text x="522.0" y="398" font-family="Liberation Sans" font-size="8" text-anchor="middle" fill="#333" font-weight="normal" stroke="#333" stroke-width="0.28" >1.0</text>
<rect x="313.5" y="216.3" width="231.79999999999995" height="171.3" fill="none" stroke="#4a4a4a" stroke-width="1.1"/>
<text x="429.4" y="410.8" font-family="Liberation Sans" font-size="11" text-anchor="middle" fill="#333" font-weight="normal" stroke="#333" stroke-width="0.28" >Scan rate (mV s<tspan dx="0.4" dy="-4.6" font-size="6" stroke-width="0.15">-1</tspan><tspan dy="4.6">)</tspan></text>
<text x="0" y="0" font-family="Liberation Sans" font-size="11.2" text-anchor="middle" fill="#333" font-weight="normal" stroke="#333" stroke-width="0.28" transform="translate(290.8,308.8) rotate(-90)">Contribution percentage (%)</text>
<rect x="465.4" y="218.3" width="73.3" height="22.4" fill="#fff" stroke="#999" stroke-width="0.7"/>
<rect x="467.3" y="219.9" width="18.9" height="9" fill="url(#pg)" stroke="#222" stroke-width="0.5"/>
<rect x="467.3" y="230.8" width="18.9" height="8.7" fill="url(#po)" stroke="#222" stroke-width="0.5"/>
<text x="488.6" y="227.8" font-family="Liberation Sans" font-size="8.6" text-anchor="start" fill="#222" font-weight="normal" stroke="#222" stroke-width="0.12" >Diffusion</text>
<text x="488.6" y="237.9" font-family="Liberation Sans" font-size="8.6" text-anchor="start" fill="#222" font-weight="normal" stroke="#222" stroke-width="0.12" >Capacitance</text>
</svg></div></body></html>
